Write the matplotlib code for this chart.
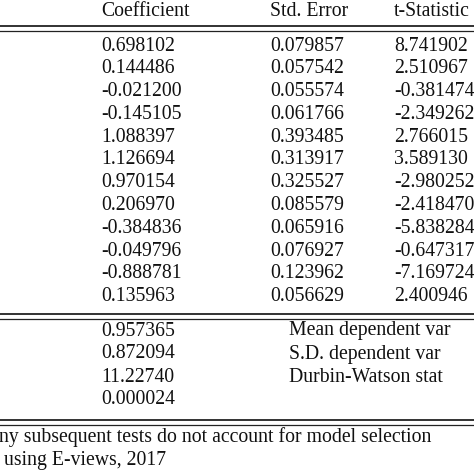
import matplotlib
matplotlib.use("Agg")
import matplotlib.pyplot as plt

headers = ["Coefficient", "Std. Error", "t-Statistic"]
coef = ["0.698102", "0.144486", "-0.021200", "-0.145105", "1.088397", "1.126694",
        "0.970154", "0.206970", "-0.384836", "-0.049796", "-0.888781", "0.135963"]
stderr = ["0.079857", "0.057542", "0.055574", "0.061766", "0.393485", "0.313917",
          "0.325527", "0.085579", "0.065916", "0.076927", "0.123962", "0.056629"]
tstat = ["8.741902", "2.510967", "-0.381474", "-2.349262", "2.766015", "3.589130",
         "-2.980252", "-2.418470", "-5.838284", "-0.647317", "-7.169724", "2.400946"]
stat_vals = ["0.957365", "0.872094", "11.22740", "0.000024"]
stat_labels = ["Mean dependent var", "S.D. dependent var", "Durbin-Watson stat", ""]
footnotes = ["ny subsequent tests do not account for model selection",
             "using E-views, 2017"]

fig = plt.figure(figsize=(4.74, 4.74), dpi=100)
ax = fig.add_axes([0, 0, 1, 1])
ax.set_xlim(0, 474)
ax.set_ylim(474, 0)
ax.axis("off")
fs = 14.2
kw = dict(fontsize=fs, family="Liberation Serif", va="center", ha="left", color="#111111")

cols = [101, 270, 394]
for x, h in zip(cols, headers):
    ax.text(x, 11, h, **kw)
for y in (26, 31):
    ax.plot([0, 474], [y, y], color="#222222", lw=1.3 if y == 26 else 0.9)

y0, dy = 46, 22.8
for i in range(len(coef)):
    y = y0 + i * dy
    ax.text(cols[0], y, coef[i], **kw)
    ax.text(cols[1], y, stderr[i], **kw)
    ax.text(cols[2], y, tstat[i], **kw)

for y, lw in ((314, 1.3), (318.5, 0.9)):
    ax.plot([0, 474], [y, y], color="#222222", lw=lw)

for i, (v, l) in enumerate(zip(stat_vals, stat_labels)):
    y = 331 + i * 23
    ax.text(cols[0], y, v, **kw)
    ax.text(289, y, l, **kw)

for y, lw in ((420, 1.3), (424.5, 0.9)):
    ax.plot([0, 474], [y, y], color="#222222", lw=lw)

ax.text(-1, 437, footnotes[0], **kw)
ax.text(4, 460, footnotes[1], **kw)

fig.savefig("out.png", dpi=100)
